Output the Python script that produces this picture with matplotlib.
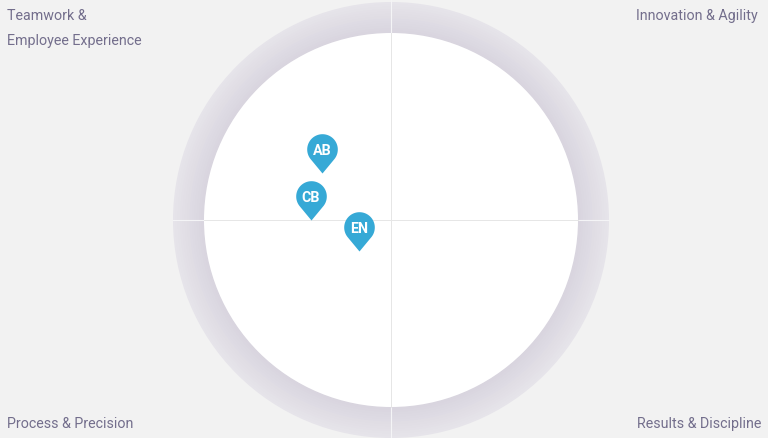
import numpy as np
import matplotlib
matplotlib.use('Agg')
import matplotlib.pyplot as plt
from matplotlib.path import Path
from matplotlib.patches import Circle

# people positions on the culture map (inner circle radius = 1)
initials = ['AB', 'CB', 'EN']
x_pos = [-0.37, -0.43, -0.17]
y_pos = [0.25, 0.0, -0.165]

quadrants = ['Teamwork &', 'Employee Experience', 'Innovation & Agility',
             'Process & Precision', 'Results & Discipline']

W, H = 768, 438
cx, cy = 391, 220      # centre in pixels
unit = 187.0           # pixels per data unit
ring_outer = 218 / unit

bg = '#f2f2f2'
pin_color = '#36a9d6'
text_color = '#736e8c'

plt.rcParams['font.family'] = ['Roboto', 'DejaVu Sans']

fig = plt.figure(figsize=(W / 100, H / 100), dpi=100, facecolor=bg)
ax = fig.add_axes([0, 0, 1, 1])
ax.set_facecolor(bg)
ax.set_xlim(-cx / unit, (W - cx) / unit)
ax.set_ylim((cy - H) / unit, cy / unit)
ax.axis('off')

# outer ring, a soft radial gradient
n = 14
c_out = np.array([0xe6, 0xe4, 0xea]) / 255
c_in = np.array([0xd8, 0xd4, 0xde]) / 255
for i in range(n):
    t = i / (n - 1)
    r = ring_outer - t * (ring_outer - 1)
    ax.add_patch(Circle((0, 0), r, color=c_out * (1 - t) + c_in * t, lw=0, zorder=1))

# axis lines through the ring
ax.plot([0, 0], [(cy - H) / unit, cy / unit], color='#f4f4f6', lw=0.8, zorder=2)
ax.plot([-ring_outer, ring_outer], [0, 0], color='#f4f4f6', lw=0.8, zorder=2)

ax.add_patch(Circle((0, 0), 1, color='white', lw=0, zorder=3))
ax.plot([0, 0], [-1, 1], color='#e6e6e6', lw=0.7, zorder=4)
ax.plot([-1, 1], [0, 0], color='#e6e6e6', lw=0.7, zorder=4)

# pin marker: tip at (0, 0), head centre 24px up, radius 15.3px
r_head, d = 15.3, 24.0
alpha = np.arccos(r_head / d)
angs = np.linspace(-np.pi / 2 + alpha, 3 * np.pi / 2 - alpha, 80)
verts = [(0, 0)] + [(r_head * np.cos(a), d + r_head * np.sin(a)) for a in angs] + [(0, 0)]
codes = [Path.MOVETO] + [Path.LINETO] * (len(verts) - 2) + [Path.CLOSEPOLY]
pin = Path(verts, codes)
extent = d + r_head
ms = 2 * extent * 72 / 100

ax.scatter(x_pos, y_pos, marker=pin, s=ms ** 2, color=pin_color, lw=0, zorder=5)
for lab, x, y in zip(initials, x_pos, y_pos):
    ax.annotate(lab, (x, y), xytext=(0, (d - 0.5) * 0.72), textcoords='offset points',
                ha='center', va='center_baseline', color='white', fontsize=10.3,
                fontweight='bold', zorder=6)

# quadrant labels
kw = dict(color=text_color, fontsize=10.3, va='baseline')
fig.text(7 / W, 1 - 20 / H, quadrants[0], ha='left', **kw)
fig.text(7 / W, 1 - 45 / H, quadrants[1], ha='left', **kw)
fig.text(758 / W, 1 - 20 / H, quadrants[2], ha='right', **kw)
fig.text(7 / W, 1 - 428 / H, quadrants[3], ha='left', **kw)
fig.text(761 / W, 1 - 428 / H, quadrants[4], ha='right', **kw)

fig.savefig('out.png', dpi=100, facecolor=bg)
